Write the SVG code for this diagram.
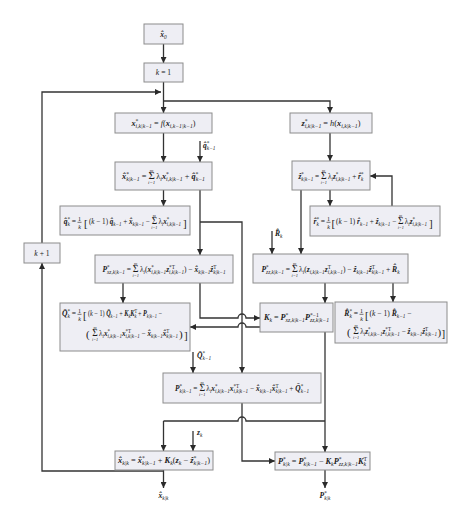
<svg xmlns="http://www.w3.org/2000/svg" width="474" height="527" viewBox="0 0 474 527">
<defs>
<marker id="ah" viewBox="0 0 10 10" refX="10" refY="5" markerWidth="6" markerHeight="6" markerUnits="userSpaceOnUse" orient="auto"><path d="M0,0 L10,5 L0,10 z" fill="#2a2a2a"/></marker>
<style>
.bx{fill:#eeeef4;stroke:#8c8c8c;stroke-width:1}
.ln{fill:none;stroke:#333;stroke-width:1.3}
.ar{fill:none;stroke:#333;stroke-width:1.3;marker-end:url(#ah)}
.t{font-family:"Liberation Serif",serif;font-size:7.6px;fill:#1a1a1a}
.i{font-style:italic}
.bi{font-style:italic;font-weight:bold}
.p{font-size:5.3px;baseline-shift:3px}
.b{font-size:5.3px;baseline-shift:-2px;font-style:italic}
.sg{font-size:10px}
.lu{font-size:4.5px;baseline-shift:7.5px;font-style:italic}
.ld{font-size:4.5px;baseline-shift:-4.5px;font-style:italic}
.f{font-size:6px}
.br{font-size:11px}
.fb{stroke:#1a1a1a;stroke-width:0.6}
</style>
</defs>
<g id="connectors">
<path class="ar" d="M163.5,44 V63"/>
<path class="ar" d="M163.5,82 V113"/>
<path class="ar" d="M163.5,101 H330 V113"/>
<path class="ar" d="M163.5,471 H42 V263"/>
<path class="ar" d="M42,243 V92 H161"/>
<path class="ar" d="M163.5,133 V162"/>
<path class="ar" d="M200,141 V162"/>
<path class="ar" d="M163.5,190 V206"/>
<path class="ar" d="M200,190 V255"/>
<path class="ar" d="M200,222 H242 V373"/>
<path class="ar" d="M330,133 V161"/>
<path class="ar" d="M330,190 V206"/>
<path class="ar" d="M392,206 V176 H370"/>
<path class="ar" d="M301,190 V254"/>
<path class="ar" d="M272,231 V254"/>
<path class="ar" d="M325,283 V303"/>
<path class="ar" d="M393,283 V302"/>
<path class="ar" d="M123,283 V303"/>
<path class="ar" d="M200,283 V318 H238 a4,4 0 0 1 8,0 H260"/>
<path class="ar" d="M260,327 H246 a4,4 0 0 0 -8,0 H190"/>
<path class="ar" d="M193,352 V373"/>
<path class="ln" d="M325,332 V421"/>
<path class="ln" d="M163.5,421 H238 a4,4 0 0 1 8,0 H325"/>
<path class="ar" d="M163.5,421 V451"/>
<path class="ar" d="M325,421 V452"/>
<path class="ar" d="M242,403 V461 H275"/>
<path class="ar" d="M193,431 V451"/>
<path class="ar" d="M163.5,470 V488"/>
<path class="ar" d="M325,470 V488"/>
</g>
<g id="n-x0"><rect class="bx" x="144" y="24" width="39" height="20"/>
<text class="t" x="163.5" y="36.5" text-anchor="middle"><tspan class="bi">x̂</tspan><tspan class="b">0</tspan></text></g>
<g id="n-k1"><rect class="bx" x="144" y="63" width="39" height="19"/>
<text class="t" x="163.5" y="75" text-anchor="middle"><tspan class="i">k</tspan> = 1</text></g>
<g id="n-kp1"><rect class="bx" x="24" y="243" width="36" height="20"/>
<text class="t" x="42" y="255.5" text-anchor="middle"><tspan class="i">k</tspan> + 1</text></g>
<g id="n-f"><rect class="bx" x="115" y="113" width="97" height="20"/>
<text class="t" x="163.5" y="125.5" text-anchor="middle" textLength="64" lengthAdjust="spacingAndGlyphs"><tspan class="bi">x</tspan><tspan class="p">*</tspan><tspan class="b" dx="-2.65">i,k|k−1</tspan> = <tspan class="i">f</tspan>(<tspan class="bi">x</tspan><tspan class="b">i,k−1|k−1</tspan>)</text></g>
<g id="n-h"><rect class="bx" x="290" y="113" width="82" height="20"/>
<text class="t" x="331" y="125.5" text-anchor="middle" textLength="59" lengthAdjust="spacingAndGlyphs"><tspan class="bi">z</tspan><tspan class="p">*</tspan><tspan class="b" dx="-2.65">i,k|k−1</tspan> = <tspan class="i">h</tspan>(<tspan class="bi">x</tspan><tspan class="b">i,k|k−1</tspan>)</text></g>
<g id="n-xpred"><rect class="bx" x="115" y="162" width="97" height="28"/>
<text class="t" x="163.5" y="179" text-anchor="middle" textLength="83" lengthAdjust="spacingAndGlyphs"><tspan class="bi">x̂</tspan><tspan class="p">*</tspan><tspan class="b" dx="-2.65">k|k−1</tspan> = <tspan class="sg">Σ</tspan><tspan class="lu" dx="-4.7">m</tspan><tspan class="ld" dx="-4.75">i=1</tspan><tspan dx="1">λ</tspan><tspan class="b">i</tspan><tspan class="bi">x</tspan><tspan class="p">*</tspan><tspan class="b" dx="-2.65">i,k|k−1</tspan> + <tspan class="bi">q̂</tspan><tspan class="p">*</tspan><tspan class="b" dx="-2.65">k−1</tspan></text></g>
<g id="n-zpred"><rect class="bx" x="292" y="161" width="78" height="29"/>
<text class="t" x="331" y="178.5" text-anchor="middle" textLength="65" lengthAdjust="spacingAndGlyphs"><tspan class="bi">ẑ</tspan><tspan class="p">*</tspan><tspan class="b" dx="-2.65">k|k−1</tspan> = <tspan class="sg">Σ</tspan><tspan class="lu" dx="-4.7">m</tspan><tspan class="ld" dx="-4.75">i=1</tspan><tspan dx="1">λ</tspan><tspan class="b">i</tspan><tspan class="bi">z</tspan><tspan class="p">*</tspan><tspan class="b" dx="-2.65">i,k|k−1</tspan> + <tspan class="bi">r̂</tspan><tspan class="p">*</tspan><tspan class="b" dx="-2.65">k</tspan></text></g>
<g id="n-q"><rect class="bx" x="60" y="206" width="130" height="29"/>
<text class="t" x="76" y="224" text-anchor="end"><tspan class="bi">q̂</tspan><tspan class="p">*</tspan><tspan class="b" dx="-2.65">k</tspan> =</text>
<text class="t f" x="79.5" y="220.5" text-anchor="middle">1</text><text class="t f i" x="79.5" y="228.5" text-anchor="middle">k</text><line class="fb" x1="77.5" y1="222.3" x2="81.5" y2="222.3"/>
<text class="t br" x="84" y="226.5">[</text>
<text class="t" x="89" y="224" textLength="92" lengthAdjust="spacingAndGlyphs">(<tspan class="i">k</tspan> − 1) <tspan class="bi">q̂</tspan><tspan class="b">k−1</tspan> + <tspan class="bi">x̂</tspan><tspan class="b">k|k−1</tspan> − <tspan class="sg">Σ</tspan><tspan class="lu" dx="-4.7">m</tspan><tspan class="ld" dx="-4.75">i=1</tspan><tspan dx="1">λ</tspan><tspan class="b">i</tspan><tspan class="bi">x</tspan><tspan class="p">*</tspan><tspan class="b" dx="-2.65">i,k|k−1</tspan></text>
<text class="t br" x="183" y="226.5">]</text></g>
<g id="n-r"><rect class="bx" x="310" y="206" width="130" height="30"/>
<text class="t" x="325" y="224" text-anchor="end"><tspan class="bi">r̂</tspan><tspan class="p">*</tspan><tspan class="b" dx="-2.65">k</tspan> =</text>
<text class="t f" x="328.5" y="220.5" text-anchor="middle">1</text><text class="t f i" x="328.5" y="228.5" text-anchor="middle">k</text><line class="fb" x1="326.5" y1="222.3" x2="330.5" y2="222.3"/>
<text class="t br" x="331.5" y="226.5">[</text>
<text class="t" x="336" y="224" textLength="91" lengthAdjust="spacingAndGlyphs">(<tspan class="i">k</tspan> − 1) <tspan class="bi">r̂</tspan><tspan class="b">k−1</tspan> + <tspan class="bi">ẑ</tspan><tspan class="b">k|k−1</tspan> − <tspan class="sg">Σ</tspan><tspan class="lu" dx="-4.7">m</tspan><tspan class="ld" dx="-4.75">i=1</tspan><tspan dx="1">λ</tspan><tspan class="b">i</tspan><tspan class="bi">z</tspan><tspan class="p">*</tspan><tspan class="b" dx="-2.65">i,k|k−1</tspan></text>
<text class="t br" x="429" y="226.5">]</text></g>
<g id="n-pxz"><rect class="bx" x="95" y="255" width="138" height="28"/>
<text class="t" x="164" y="272" text-anchor="middle" textLength="123" lengthAdjust="spacingAndGlyphs"><tspan class="bi">P</tspan><tspan class="p">*</tspan><tspan class="b" dx="-2.65">xz,k|k−1</tspan> = <tspan class="sg">Σ</tspan><tspan class="lu" dx="-4.7">m</tspan><tspan class="ld" dx="-4.75">i=1</tspan><tspan dx="1">λ</tspan><tspan class="b">i</tspan>(<tspan class="bi">x</tspan><tspan class="p">*</tspan><tspan class="b" dx="-2.65">i,k|k−1</tspan><tspan class="bi">z</tspan><tspan class="p">*T</tspan><tspan class="b" dx="-5.9">i,k|k−1</tspan>) − <tspan class="bi">x̂</tspan><tspan class="b">k|k−1</tspan><tspan class="bi">ẑ</tspan><tspan class="p">T</tspan><tspan class="b" dx="-3.2">k|k−1</tspan></text></g>
<g id="n-pzz"><rect class="bx" x="253" y="254" width="155" height="29"/>
<text class="t" x="330.5" y="271.5" text-anchor="middle" textLength="138" lengthAdjust="spacingAndGlyphs"><tspan class="bi">P</tspan><tspan class="p">*</tspan><tspan class="b" dx="-2.65">zz,k|k−1</tspan> = <tspan class="sg">Σ</tspan><tspan class="lu" dx="-4.7">m</tspan><tspan class="ld" dx="-4.75">i=1</tspan><tspan dx="1">λ</tspan><tspan class="b">i</tspan>(<tspan class="bi">z</tspan><tspan class="b">i,k|k−1</tspan><tspan class="bi">z</tspan><tspan class="p">T</tspan><tspan class="b" dx="-3.2">i,k|k−1</tspan>) − <tspan class="bi">ẑ</tspan><tspan class="b">k|k−1</tspan><tspan class="bi">ẑ</tspan><tspan class="p">T</tspan><tspan class="b" dx="-3.2">k|k−1</tspan> + <tspan class="bi">R̂</tspan><tspan class="b">k</tspan></text></g>
<g id="n-Q"><rect class="bx" x="60" y="303" width="130" height="48"/>
<text class="t" x="76" y="316" text-anchor="end"><tspan class="bi">Q̄</tspan><tspan class="p">*</tspan><tspan class="b" dx="-2.65">k</tspan> =</text>
<text class="t f" x="79.5" y="312.5" text-anchor="middle">1</text><text class="t f i" x="79.5" y="320.5" text-anchor="middle">k</text><line class="fb" x1="77.5" y1="314.3" x2="81.5" y2="314.3"/>
<text class="t br" x="83" y="318.5">[</text>
<text class="t" x="88" y="316" textLength="74" lengthAdjust="spacingAndGlyphs">(<tspan class="i">k</tspan> − 1) <tspan class="bi">Q̄</tspan><tspan class="b">k−1</tspan> + <tspan class="bi">K</tspan><tspan class="b">k</tspan><tspan class="bi">K</tspan><tspan class="p">T</tspan><tspan class="b" dx="-3.2">k</tspan> + <tspan class="bi">P</tspan><tspan class="b">k|k−1</tspan> −</text>
<text class="t br" x="86" y="338">(</text>
<text class="t" x="92" y="336" textLength="86" lengthAdjust="spacingAndGlyphs"><tspan class="sg">Σ</tspan><tspan class="lu" dx="-4.7">m</tspan><tspan class="ld" dx="-4.75">i=1</tspan><tspan dx="1">λ</tspan><tspan class="b">i</tspan><tspan class="bi">x</tspan><tspan class="p">*</tspan><tspan class="b" dx="-2.65">i,k|k−1</tspan><tspan class="bi">x</tspan><tspan class="p">*T</tspan><tspan class="b" dx="-5.9">i,k|k−1</tspan> − <tspan class="bi">x̂</tspan><tspan class="b">k|k−1</tspan><tspan class="bi">x̂</tspan><tspan class="p">T</tspan><tspan class="b" dx="-3.2">k|k−1</tspan></text>
<text class="t br" x="179" y="338">)</text>
<text class="t br" x="184" y="339">]</text></g>
<g id="n-K"><rect class="bx" x="260" y="303" width="73" height="29"/>
<text class="t" x="296.5" y="320" text-anchor="middle" textLength="65" lengthAdjust="spacingAndGlyphs"><tspan class="bi">K</tspan><tspan class="b">k</tspan> = <tspan class="bi">P</tspan><tspan class="p">*</tspan><tspan class="b" dx="-2.65">xz,k|k−1</tspan><tspan class="bi">P</tspan><tspan class="p">*−1</tspan><tspan class="b" dx="-8.3">zz,k|k−1</tspan></text></g>
<g id="n-R"><rect class="bx" x="335" y="302" width="112" height="41"/>
<text class="t" x="358" y="316" text-anchor="end"><tspan class="bi">R̂</tspan><tspan class="p">*</tspan><tspan class="b" dx="-2.65">k</tspan> =</text>
<text class="t f" x="361.5" y="312.5" text-anchor="middle">1</text><text class="t f i" x="361.5" y="320.5" text-anchor="middle">k</text><line class="fb" x1="359.5" y1="314.3" x2="363.5" y2="314.3"/>
<text class="t br" x="365" y="318.5">[</text>
<text class="t" x="369.5" y="316">(<tspan class="i">k</tspan> − 1) <tspan class="bi">R̂</tspan><tspan class="b">k−1</tspan> −</text>
<text class="t br" x="347" y="336">(</text>
<text class="t" x="353" y="334" textLength="84" lengthAdjust="spacingAndGlyphs"><tspan class="sg">Σ</tspan><tspan class="lu" dx="-4.7">m</tspan><tspan class="ld" dx="-4.75">i=1</tspan><tspan dx="1">λ</tspan><tspan class="b">i</tspan><tspan class="bi">z</tspan><tspan class="p">*</tspan><tspan class="b" dx="-2.65">i,k|k−1</tspan><tspan class="bi">z</tspan><tspan class="p">*T</tspan><tspan class="b" dx="-5.9">i,k|k−1</tspan> − <tspan class="bi">ẑ</tspan><tspan class="b">k|k−1</tspan><tspan class="bi">ẑ</tspan><tspan class="p">T</tspan><tspan class="b" dx="-3.2">k|k−1</tspan></text>
<text class="t br" x="437.5" y="336">)</text>
<text class="t br" x="441.5" y="337">]</text></g>
<g id="n-Ppred"><rect class="bx" x="163" y="373" width="158" height="30"/>
<text class="t" x="242" y="390.5" text-anchor="middle" textLength="134" lengthAdjust="spacingAndGlyphs"><tspan class="bi">P</tspan><tspan class="p">*</tspan><tspan class="b" dx="-2.65">k|k−1</tspan> = <tspan class="sg">Σ</tspan><tspan class="lu" dx="-4.7">m</tspan><tspan class="ld" dx="-4.75">i=1</tspan><tspan dx="1">λ</tspan><tspan class="b">i</tspan><tspan class="bi">x</tspan><tspan class="p">*</tspan><tspan class="b" dx="-2.65">i,k|k−1</tspan><tspan class="bi">x</tspan><tspan class="p">*T</tspan><tspan class="b" dx="-5.9">i,k|k−1</tspan> − <tspan class="bi">x̂</tspan><tspan class="b">k|k−1</tspan><tspan class="bi">x̂</tspan><tspan class="p">T</tspan><tspan class="b" dx="-3.2">k|k−1</tspan> + <tspan class="bi">Q̄</tspan><tspan class="p">*</tspan><tspan class="b" dx="-2.65">k−1</tspan></text></g>
<g id="n-xupd"><rect class="bx" x="115" y="451" width="98" height="19"/>
<text class="t" x="164" y="463" text-anchor="middle" textLength="92" lengthAdjust="spacingAndGlyphs"><tspan class="bi">x̂</tspan><tspan class="b">k|k</tspan> = <tspan class="bi">x̂</tspan><tspan class="p">*</tspan><tspan class="b" dx="-2.65">k|k−1</tspan> + <tspan class="bi">K</tspan><tspan class="b">k</tspan>(<tspan class="bi">z</tspan><tspan class="b">k</tspan> − <tspan class="bi">ẑ</tspan><tspan class="p">*</tspan><tspan class="b" dx="-2.65">k|k−1</tspan>)</text></g>
<g id="n-Pupd"><rect class="bx" x="275" y="452" width="95" height="18"/>
<text class="t" x="322.5" y="463.5" text-anchor="middle" textLength="89" lengthAdjust="spacingAndGlyphs"><tspan class="bi">P</tspan><tspan class="p">*</tspan><tspan class="b" dx="-2.65">k|k</tspan> = <tspan class="bi">P</tspan><tspan class="p">*</tspan><tspan class="b" dx="-2.65">k|k−1</tspan> − <tspan class="bi">K</tspan><tspan class="b">k</tspan><tspan class="bi">P</tspan><tspan class="p">*</tspan><tspan class="b" dx="-2.65">zz,k|k−1</tspan><tspan class="bi">K</tspan><tspan class="p">T</tspan><tspan class="b" dx="-3.2">k</tspan></text></g>
<g id="labels">
<text class="t" x="203" y="148"><tspan class="bi">q̂</tspan><tspan class="p">*</tspan><tspan class="b" dx="-2.65">k−1</tspan></text>
<text class="t" x="275" y="236"><tspan class="bi">R̂</tspan><tspan class="b">k</tspan></text>
<text class="t" x="197" y="358"><tspan class="bi">Q̄</tspan><tspan class="p">*</tspan><tspan class="b" dx="-2.65">k−1</tspan></text>
<text class="t" x="197" y="435"><tspan class="bi">z</tspan><tspan class="b">k</tspan></text>
<text class="t" x="163.5" y="498" text-anchor="middle"><tspan class="bi">x̂</tspan><tspan class="b">k|k</tspan></text>
<text class="t" x="325" y="498" text-anchor="middle"><tspan class="bi">P</tspan><tspan class="p">*</tspan><tspan class="b" dx="-2.65">k|k</tspan></text>
</g>
</svg>
